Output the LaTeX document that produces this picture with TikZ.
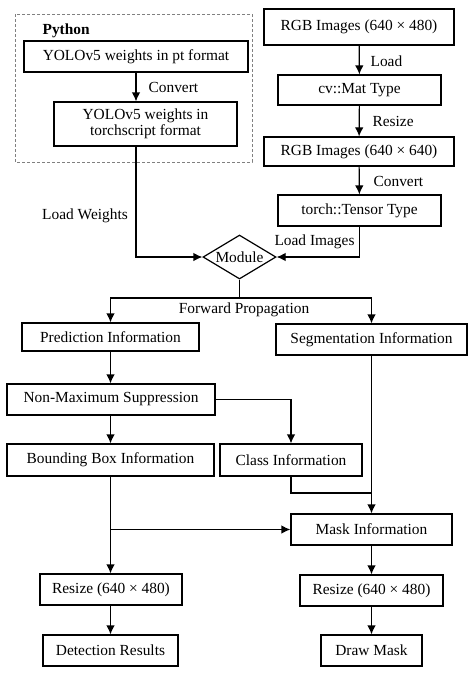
\documentclass[tikz,border=0pt]{standalone}
\usepackage{fontspec}
\setmainfont{Liberation Serif}
\usepackage{tikz}
\usetikzlibrary{shapes.geometric}
\usetikzlibrary{arrows.meta}
\tikzset{every picture/.style={line width=1.2pt},every node/.style={font=\fontsize{15.4}{18}\selectfont}}

\begin{document}
\begin{tikzpicture}[x=1pt,y=-1pt,bx/.style={draw,inner sep=0pt,minimum height=31pt},lbl/.style={inner sep=0pt}]
\useasboundingbox (0,0) rectangle (474,675);
% python side
\draw[gray,line width=0.8pt,densely dashed] (15,14) rectangle (252,162);
\node (py) at (42,31) [lbl,anchor=west] {\bfseries Python};
\node (pt) at (136,56.5) [bx,minimum width=224pt] {YOLOv5 weights in pt format};
\node (ts) at (145.5,124) [bx,minimum width=183pt,minimum height=44pt,align=center] {YOLOv5 weights in\\[-2pt]torchscript format};
% image side
\node (rgbA) at (359,27) [bx,minimum width=190pt,minimum height=36pt] {RGB Images (640 × 480)};
\node (mat) at (359.5,90) [bx,minimum width=163pt,minimum height=30pt] {cv::Mat Type};
\node (rgbB) at (359,151.5) [bx,minimum width=190pt,minimum height=29pt] {RGB Images (640 × 640)};
\node (ten) at (359.5,210.5) [bx,minimum width=163pt] {torch::Tensor Type};
\node (mod) at (239.5,257) [diamond,draw,inner sep=0pt,minimum width=73pt,minimum height=44pt] {\makebox[0pt]{Module}};
% outputs
\node (pred) at (110.5,337) [bx,minimum width=177pt,minimum height=28pt] {Prediction Information};
\node (seg) at (371.5,339.5) [bx,minimum width=191pt] {Segmentation Information};
\node (nms) at (111,399.5) [bx,minimum width=208pt] {Non-Maximum Suppression};
\node (bbox) at (110.5,460) [bx,minimum width=207pt,minimum height=32pt] {Bounding Box Information};
\node (cls) at (291,460) [bx,minimum width=142pt,minimum height=32pt] {Class Information};
\node (mask) at (371.5,529.5) [bx,minimum width=161pt] {Mask Information};
\node (rsl) at (111,589.5) [bx,minimum width=142pt] {Resize (640 × 480)};
\node (rsr) at (371.5,590.5) [bx,minimum width=143pt] {Resize (640 × 480)};
\node (det) at (110.5,650.5) [bx,minimum width=135pt] {Detection Results};
\node (drw) at (371.5,650.5) [bx,minimum width=101pt] {Draw Mask};
% labels
\node (lcv) at (148,87) [lbl,anchor=west] {Convert};
\node (lld) at (370,61) [lbl,anchor=west] {Load};
\node (lrs) at (372,121) [lbl,anchor=west] {Resize};
\node (lcv2) at (373,181) [lbl,anchor=west] {Convert};
\node (llw) at (85,216) [lbl] {Load Weights};
\node (lli) at (314.5,242) [lbl] {Load Images};
\node (lfp) at (244,310) [lbl] {Forward Propagation};
\coordinate (fp) at (239.5,298);
\coordinate (cj) at (371.5,493);
% connectors
\draw[-{Latex[length=9pt,width=8.5pt]}] (pt) -- (pt |- ts.north);
\draw[-{Latex[length=9pt,width=8.5pt]}] (pt |- ts.south) |- (mod.west);
\draw[-{Latex[length=9pt,width=8.5pt]}] (rgbA) -- (mat);
\draw[-{Latex[length=9pt,width=8.5pt]}] (mat) -- (rgbB);
\draw[-{Latex[length=9pt,width=8.5pt]}] (rgbB) -- (ten);
\draw[-{Latex[length=9pt,width=8.5pt]}] (ten) |- (mod.east);
\draw (mod) -- (fp);
\draw[-{Latex[length=9pt,width=8.5pt]}] (fp) -| (pred.north);
\draw[-{Latex[length=9pt,width=8.5pt]}] (fp) -| (seg.north);
\draw[-{Latex[length=9pt,width=8.5pt]}] (pred) -- (pred |- nms.north);
\draw[-{Latex[length=9pt,width=8.5pt]}] (nms.east) -| (cls.north);
\draw[-{Latex[length=9pt,width=8.5pt]}] (nms.south -| bbox) -- (bbox);
\draw[-{Latex[length=9pt,width=8.5pt]}] (seg) -- (mask);
\draw (cls) |- (cj);
\draw[-{Latex[length=9pt,width=8.5pt]}] (bbox.south) -- (bbox.south |- rsl.north);
\draw[-{Latex[length=9pt,width=8.5pt]}] (bbox.south |- mask.west) -- (mask.west);
\draw[-{Latex[length=9pt,width=8.5pt]}] (mask) -- (rsr);
\draw[-{Latex[length=9pt,width=8.5pt]}] (rsl.south -| det) -- (det);
\draw[-{Latex[length=9pt,width=8.5pt]}] (rsr) -- (drw);
\end{tikzpicture}
\end{document}
